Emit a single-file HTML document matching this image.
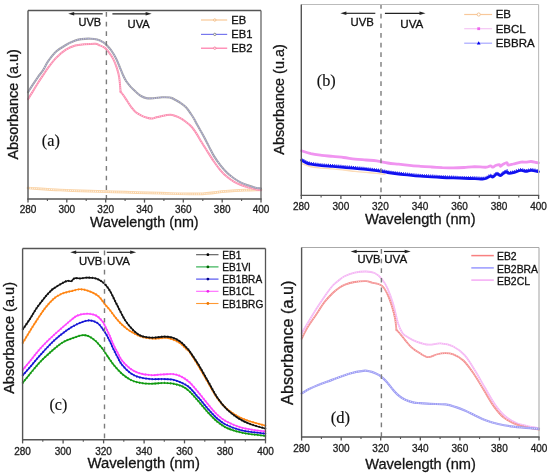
<!DOCTYPE html>
<html><head><meta charset="utf-8"><title>UV absorbance spectra</title>
<style>html,body{margin:0;padding:0;background:#fff;overflow:hidden;width:550px;height:476px;}svg{display:block;will-change:transform;}</style>
</head><body>
<svg width="550" height="476" viewBox="0 0 550 476">
<rect width="550" height="476" fill="#fff"/>
<path d="M28.0,188.0 C33.3,188.3 49.7,189.5 60.0,190.0 C70.3,190.5 79.2,190.8 90.0,191.2 C100.8,191.6 113.3,191.9 125.0,192.2 C136.7,192.5 147.7,192.9 160.0,193.2 C172.3,193.5 188.1,194.2 199.0,193.9 C209.9,193.6 217.8,191.9 225.5,191.3 C233.2,190.7 239.1,190.4 245.0,190.2 C250.9,189.9 258.3,189.9 261.0,189.8" fill="none" stroke="#fad4a8" stroke-width="2.70" stroke-linejoin="round" stroke-linecap="round" />
<path d="M28.0,188.0 C33.3,188.3 49.7,189.5 60.0,190.0 C70.3,190.5 79.2,190.8 90.0,191.2 C100.8,191.6 113.3,191.9 125.0,192.2 C136.7,192.5 147.7,192.9 160.0,193.2 C172.3,193.5 188.1,194.2 199.0,193.9 C209.9,193.6 217.8,191.9 225.5,191.3 C233.2,190.7 239.1,190.4 245.0,190.2 C250.9,189.9 258.3,189.9 261.0,189.8" fill="none" stroke="#ffffff" stroke-width="1.08" stroke-linejoin="round" stroke-linecap="butt" stroke-dasharray="1 1.1" stroke-opacity="0.75"/>
<path d="M28.0,99.2 C28.8,97.8 31.3,93.8 33.0,91.1 C34.7,88.3 36.4,85.4 38.1,82.7 C39.8,80.0 41.4,77.6 43.1,75.1 C44.8,72.6 46.0,70.5 48.2,67.6 C50.4,64.7 53.4,60.6 56.4,57.6 C59.4,54.6 62.8,51.7 65.9,49.7 C69.1,47.7 72.2,46.4 75.3,45.5 C78.4,44.6 81.1,44.6 84.5,44.3 C87.9,44.0 93.1,43.6 95.5,43.7 C97.9,43.8 97.2,44.4 98.7,45.0 C100.2,45.6 102.6,46.4 104.2,47.4 C105.8,48.4 106.6,49.5 108.1,51.3 C109.5,53.1 111.5,55.6 112.9,58.4 C114.4,61.2 115.8,64.8 116.8,67.9 C117.8,71.1 118.6,73.3 119.2,77.3 C119.8,81.3 120.4,89.4 120.6,91.8" fill="none" stroke="#fb8aae" stroke-width="2.00" stroke-linejoin="round" stroke-linecap="round" />
<path d="M28.0,99.2 C28.8,97.8 31.3,93.8 33.0,91.1 C34.7,88.3 36.4,85.4 38.1,82.7 C39.8,80.0 41.4,77.6 43.1,75.1 C44.8,72.6 46.0,70.5 48.2,67.6 C50.4,64.7 53.4,60.6 56.4,57.6 C59.4,54.6 62.8,51.7 65.9,49.7 C69.1,47.7 72.2,46.4 75.3,45.5 C78.4,44.6 81.1,44.6 84.5,44.3 C87.9,44.0 93.1,43.6 95.5,43.7 C97.9,43.8 97.2,44.4 98.7,45.0 C100.2,45.6 102.6,46.4 104.2,47.4 C105.8,48.4 106.6,49.5 108.1,51.3 C109.5,53.1 111.5,55.6 112.9,58.4 C114.4,61.2 115.8,64.8 116.8,67.9 C117.8,71.1 118.6,73.3 119.2,77.3 C119.8,81.3 120.4,89.4 120.6,91.8" fill="none" stroke="#ffffff" stroke-width="0.80" stroke-linejoin="round" stroke-linecap="butt" stroke-dasharray="1 1.1" stroke-opacity="0.75"/>
<path d="M120.6,91.8 C121.0,92.3 122.1,93.4 123.2,95.0 C124.3,96.6 126.0,99.2 127.4,101.3 C128.8,103.4 130.2,105.8 131.6,107.6 C133.0,109.4 134.2,111.0 135.8,112.3 C137.4,113.6 139.2,114.5 141.0,115.4 C142.8,116.3 144.6,117.0 146.3,117.5 C148.1,118.0 149.9,118.6 151.5,118.6 C153.1,118.6 153.9,118.0 155.7,117.6 C157.4,117.2 159.6,116.5 162.0,116.0 C164.4,115.5 168.1,114.8 170.3,114.8 C172.6,114.8 173.8,115.4 175.5,116.0 C177.2,116.6 179.1,117.4 180.8,118.4 C182.6,119.4 184.2,120.7 186.0,122.0 C187.8,123.3 189.6,124.6 191.3,126.5 C193.1,128.4 194.8,131.0 196.5,133.6 C198.2,136.2 200.2,139.9 201.5,142.0 C202.8,144.1 203.3,145.0 204.2,146.4 C205.1,147.8 205.2,148.0 206.8,150.5 C208.4,153.0 211.4,157.9 213.7,161.2 C216.0,164.5 218.2,167.7 220.5,170.3 C222.8,173.0 225.0,175.2 227.3,177.1 C229.6,179.0 231.9,180.6 234.2,181.9 C236.5,183.2 238.7,184.1 241.0,185.0 C243.3,185.9 245.5,186.7 247.8,187.4 C250.1,188.1 252.4,188.5 254.6,189.0 C256.8,189.5 259.9,190.0 261.0,190.2" fill="none" stroke="#fb8aae" stroke-width="2.00" stroke-linejoin="round" stroke-linecap="round" />
<path d="M120.6,91.8 C121.0,92.3 122.1,93.4 123.2,95.0 C124.3,96.6 126.0,99.2 127.4,101.3 C128.8,103.4 130.2,105.8 131.6,107.6 C133.0,109.4 134.2,111.0 135.8,112.3 C137.4,113.6 139.2,114.5 141.0,115.4 C142.8,116.3 144.6,117.0 146.3,117.5 C148.1,118.0 149.9,118.6 151.5,118.6 C153.1,118.6 153.9,118.0 155.7,117.6 C157.4,117.2 159.6,116.5 162.0,116.0 C164.4,115.5 168.1,114.8 170.3,114.8 C172.6,114.8 173.8,115.4 175.5,116.0 C177.2,116.6 179.1,117.4 180.8,118.4 C182.6,119.4 184.2,120.7 186.0,122.0 C187.8,123.3 189.6,124.6 191.3,126.5 C193.1,128.4 194.8,131.0 196.5,133.6 C198.2,136.2 200.2,139.9 201.5,142.0 C202.8,144.1 203.3,145.0 204.2,146.4 C205.1,147.8 205.2,148.0 206.8,150.5 C208.4,153.0 211.4,157.9 213.7,161.2 C216.0,164.5 218.2,167.7 220.5,170.3 C222.8,173.0 225.0,175.2 227.3,177.1 C229.6,179.0 231.9,180.6 234.2,181.9 C236.5,183.2 238.7,184.1 241.0,185.0 C243.3,185.9 245.5,186.7 247.8,187.4 C250.1,188.1 252.4,188.5 254.6,189.0 C256.8,189.5 259.9,190.0 261.0,190.2" fill="none" stroke="#ffffff" stroke-width="0.80" stroke-linejoin="round" stroke-linecap="butt" stroke-dasharray="1 1.1" stroke-opacity="0.75"/>
<path d="M28.0,92.2 C28.8,90.9 31.3,87.0 33.0,84.4 C34.7,81.8 36.4,79.2 38.1,76.8 C39.8,74.4 41.4,72.7 43.1,70.1 C44.8,67.5 46.0,64.3 48.2,61.2 C50.4,58.1 53.4,54.0 56.4,51.3 C59.4,48.6 62.8,46.8 65.9,45.0 C69.1,43.2 72.7,41.6 75.3,40.6 C77.9,39.6 78.7,39.4 81.3,39.1 C83.9,38.8 88.2,38.6 90.8,38.7 C93.4,38.8 95.0,39.0 97.1,39.6 C99.2,40.2 101.8,41.5 103.4,42.4 C105.0,43.3 105.2,43.6 106.5,45.0 C107.8,46.4 109.7,48.3 111.3,50.5 C112.9,52.7 114.4,55.2 116.0,58.4 C117.6,61.5 119.5,66.6 120.7,69.4 C121.9,72.2 122.1,73.0 123.0,75.0 C123.9,77.0 125.0,79.4 126.3,81.3 C127.5,83.2 128.9,84.8 130.5,86.6 C132.1,88.3 134.1,90.2 135.8,91.8 C137.6,93.4 139.2,95.0 141.0,96.0 C142.8,97.0 144.2,97.7 146.3,98.1 C148.4,98.5 151.0,98.4 153.6,98.3 C156.2,98.2 159.2,97.4 162.0,97.3 C164.8,97.2 168.1,97.1 170.3,97.6 C172.6,98.0 173.8,99.1 175.5,100.0 C177.2,100.9 179.1,101.9 180.8,103.1 C182.6,104.3 184.3,105.5 186.0,107.3 C187.7,109.1 189.6,112.0 191.0,114.0 C192.4,116.0 193.2,117.4 194.3,119.3 C195.4,121.2 196.2,123.0 197.5,125.3 C198.8,127.6 200.5,130.6 202.0,133.3 C203.5,136.0 205.2,139.1 206.4,141.5 C207.7,143.9 208.3,145.2 209.5,147.6 C210.7,149.9 211.9,152.6 213.7,155.6 C215.5,158.6 218.2,162.4 220.5,165.3 C222.8,168.2 225.0,170.8 227.3,173.0 C229.6,175.2 231.9,176.9 234.2,178.5 C236.5,180.1 238.7,181.5 241.0,182.6 C243.3,183.7 245.5,184.5 247.8,185.3 C250.1,186.1 252.4,186.9 254.6,187.4 C256.8,187.9 259.9,188.3 261.0,188.5" fill="none" stroke="#9e9ea4" stroke-width="2.10" stroke-linejoin="round" stroke-linecap="round" />
<path d="M28.0,92.2 C28.8,90.9 31.3,87.0 33.0,84.4 C34.7,81.8 36.4,79.2 38.1,76.8 C39.8,74.4 41.4,72.7 43.1,70.1 C44.8,67.5 46.0,64.3 48.2,61.2 C50.4,58.1 53.4,54.0 56.4,51.3 C59.4,48.6 62.8,46.8 65.9,45.0 C69.1,43.2 72.7,41.6 75.3,40.6 C77.9,39.6 78.7,39.4 81.3,39.1 C83.9,38.8 88.2,38.6 90.8,38.7 C93.4,38.8 95.0,39.0 97.1,39.6 C99.2,40.2 101.8,41.5 103.4,42.4 C105.0,43.3 105.2,43.6 106.5,45.0 C107.8,46.4 109.7,48.3 111.3,50.5 C112.9,52.7 114.4,55.2 116.0,58.4 C117.6,61.5 119.5,66.6 120.7,69.4 C121.9,72.2 122.1,73.0 123.0,75.0 C123.9,77.0 125.0,79.4 126.3,81.3 C127.5,83.2 128.9,84.8 130.5,86.6 C132.1,88.3 134.1,90.2 135.8,91.8 C137.6,93.4 139.2,95.0 141.0,96.0 C142.8,97.0 144.2,97.7 146.3,98.1 C148.4,98.5 151.0,98.4 153.6,98.3 C156.2,98.2 159.2,97.4 162.0,97.3 C164.8,97.2 168.1,97.1 170.3,97.6 C172.6,98.0 173.8,99.1 175.5,100.0 C177.2,100.9 179.1,101.9 180.8,103.1 C182.6,104.3 184.3,105.5 186.0,107.3 C187.7,109.1 189.6,112.0 191.0,114.0 C192.4,116.0 193.2,117.4 194.3,119.3 C195.4,121.2 196.2,123.0 197.5,125.3 C198.8,127.6 200.5,130.6 202.0,133.3 C203.5,136.0 205.2,139.1 206.4,141.5 C207.7,143.9 208.3,145.2 209.5,147.6 C210.7,149.9 211.9,152.6 213.7,155.6 C215.5,158.6 218.2,162.4 220.5,165.3 C222.8,168.2 225.0,170.8 227.3,173.0 C229.6,175.2 231.9,176.9 234.2,178.5 C236.5,180.1 238.7,181.5 241.0,182.6 C243.3,183.7 245.5,184.5 247.8,185.3 C250.1,186.1 252.4,186.9 254.6,187.4 C256.8,187.9 259.9,188.3 261.0,188.5" fill="none" stroke="#ffffff" stroke-width="0.84" stroke-linejoin="round" stroke-linecap="butt" stroke-dasharray="1 1.1" stroke-opacity="0.75"/>
<path d="M28.0,92.2 C28.8,90.9 31.3,87.0 33.0,84.4 C34.7,81.8 36.4,79.2 38.1,76.8 C39.8,74.4 41.4,72.7 43.1,70.1 C44.8,67.5 46.0,64.3 48.2,61.2 C50.4,58.1 53.4,54.0 56.4,51.3 C59.4,48.6 62.8,46.8 65.9,45.0 C69.1,43.2 72.7,41.6 75.3,40.6 C77.9,39.6 78.7,39.4 81.3,39.1 C83.9,38.8 88.2,38.6 90.8,38.7 C93.4,38.8 95.0,39.0 97.1,39.6 C99.2,40.2 101.8,41.5 103.4,42.4 C105.0,43.3 105.2,43.6 106.5,45.0 C107.8,46.4 109.7,48.3 111.3,50.5 C112.9,52.7 114.4,55.2 116.0,58.4 C117.6,61.5 119.5,66.6 120.7,69.4 C121.9,72.2 122.1,73.0 123.0,75.0 C123.9,77.0 125.0,79.4 126.3,81.3 C127.5,83.2 128.9,84.8 130.5,86.6 C132.1,88.3 134.1,90.2 135.8,91.8 C137.6,93.4 139.2,95.0 141.0,96.0 C142.8,97.0 144.2,97.7 146.3,98.1 C148.4,98.5 151.0,98.4 153.6,98.3 C156.2,98.2 159.2,97.4 162.0,97.3 C164.8,97.2 168.1,97.1 170.3,97.6 C172.6,98.0 173.8,99.1 175.5,100.0 C177.2,100.9 179.1,101.9 180.8,103.1 C182.6,104.3 184.3,105.5 186.0,107.3 C187.7,109.1 189.6,112.0 191.0,114.0 C192.4,116.0 193.2,117.4 194.3,119.3 C195.4,121.2 196.2,123.0 197.5,125.3 C198.8,127.6 200.5,130.6 202.0,133.3 C203.5,136.0 205.2,139.1 206.4,141.5 C207.7,143.9 208.3,145.2 209.5,147.6 C210.7,149.9 211.9,152.6 213.7,155.6 C215.5,158.6 218.2,162.4 220.5,165.3 C222.8,168.2 225.0,170.8 227.3,173.0 C229.6,175.2 231.9,176.9 234.2,178.5 C236.5,180.1 238.7,181.5 241.0,182.6 C243.3,183.7 245.5,184.5 247.8,185.3 C250.1,186.1 252.4,186.9 254.6,187.4 C256.8,187.9 259.9,188.3 261.0,188.5" fill="none" stroke="#8282f0" stroke-width="0.65" stroke-linejoin="round" stroke-linecap="butt" stroke-opacity="0.8" stroke-dasharray="1.2 1.2" stroke-dashoffset="0.6"/>
<line x1="106.4" y1="12.1" x2="106.4" y2="199.0" stroke="#7c7c7c" stroke-width="1.40" stroke-dasharray="4.70 4.92"/>
<line x1="28.0" y1="10.5" x2="261.0" y2="10.5" stroke="#555" stroke-width="1.30" />
<line x1="261.0" y1="10.5" x2="261.0" y2="199.0" stroke="#666" stroke-width="1.30" />
<line x1="28.0" y1="10.5" x2="28.0" y2="199.6" stroke="#555" stroke-width="1.40" />
<line x1="27.4" y1="199.0" x2="261.6" y2="199.0" stroke="#555" stroke-width="1.40" />
<line x1="28.0" y1="199.0" x2="28.0" y2="202.6" stroke="#555" stroke-width="1.30" />
<text x="28.0" y="212.6" font-size="10.00" text-anchor="middle" font-family='"Liberation Sans", sans-serif' fill="#222" stroke="#222" stroke-width="0.30" >280</text>
<line x1="47.4" y1="199.0" x2="47.4" y2="201.0" stroke="#555" stroke-width="1.10" />
<line x1="66.8" y1="199.0" x2="66.8" y2="202.6" stroke="#555" stroke-width="1.30" />
<text x="66.8" y="212.6" font-size="10.00" text-anchor="middle" font-family='"Liberation Sans", sans-serif' fill="#222" stroke="#222" stroke-width="0.30" >300</text>
<line x1="86.2" y1="199.0" x2="86.2" y2="201.0" stroke="#555" stroke-width="1.10" />
<line x1="105.7" y1="199.0" x2="105.7" y2="202.6" stroke="#555" stroke-width="1.30" />
<text x="105.7" y="212.6" font-size="10.00" text-anchor="middle" font-family='"Liberation Sans", sans-serif' fill="#222" stroke="#222" stroke-width="0.30" >320</text>
<line x1="125.1" y1="199.0" x2="125.1" y2="201.0" stroke="#555" stroke-width="1.10" />
<line x1="144.5" y1="199.0" x2="144.5" y2="202.6" stroke="#555" stroke-width="1.30" />
<text x="144.5" y="212.6" font-size="10.00" text-anchor="middle" font-family='"Liberation Sans", sans-serif' fill="#222" stroke="#222" stroke-width="0.30" >340</text>
<line x1="163.9" y1="199.0" x2="163.9" y2="201.0" stroke="#555" stroke-width="1.10" />
<line x1="183.3" y1="199.0" x2="183.3" y2="202.6" stroke="#555" stroke-width="1.30" />
<text x="183.3" y="212.6" font-size="10.00" text-anchor="middle" font-family='"Liberation Sans", sans-serif' fill="#222" stroke="#222" stroke-width="0.30" >360</text>
<line x1="202.8" y1="199.0" x2="202.8" y2="201.0" stroke="#555" stroke-width="1.10" />
<line x1="222.2" y1="199.0" x2="222.2" y2="202.6" stroke="#555" stroke-width="1.30" />
<text x="222.2" y="212.6" font-size="10.00" text-anchor="middle" font-family='"Liberation Sans", sans-serif' fill="#222" stroke="#222" stroke-width="0.30" >380</text>
<line x1="241.6" y1="199.0" x2="241.6" y2="201.0" stroke="#555" stroke-width="1.10" />
<line x1="261.0" y1="199.0" x2="261.0" y2="202.6" stroke="#555" stroke-width="1.30" />
<text x="261.0" y="212.6" font-size="10.00" text-anchor="middle" font-family='"Liberation Sans", sans-serif' fill="#222" stroke="#222" stroke-width="0.30" >400</text>
<text x="144.3" y="226.6" font-size="14.35" text-anchor="middle" font-family='"Liberation Sans", sans-serif' fill="#151515" stroke="#151515" stroke-width="0.30" >Wavelength (nm)</text>
<text transform="translate(18.4,104.4) rotate(-90)" font-size="14.4" text-anchor="middle" font-family='"Liberation Sans", sans-serif' fill="#151515" stroke="#151515" stroke-width="0.3">Absorbance (a.u)</text>
<line x1="102.7" y1="13.8" x2="71.8" y2="13.8" stroke="#222" stroke-width="1.15" />
<polygon points="68.2,13.8 74.2,12.1 74.2,15.5" fill="#222"/>
<line x1="112.4" y1="13.8" x2="148.0" y2="13.8" stroke="#222" stroke-width="1.15" />
<polygon points="151.6,13.8 145.6,12.1 145.6,15.5" fill="#222"/>
<text x="78.5" y="26.2" font-size="11.00" text-anchor="start" font-family='"Liberation Sans", sans-serif' fill="#111" stroke="#111" stroke-width="0.30" >UVB</text>
<text x="127.6" y="27.6" font-size="11.20" text-anchor="start" font-family='"Liberation Sans", sans-serif' fill="#111" stroke="#111" stroke-width="0.30" >UVA</text>
<text x="41.8" y="145.6" font-size="16.30" text-anchor="start" font-family='"Liberation Serif", serif' fill="#111" stroke="#111" stroke-width="0.15" >(a)</text>
<line x1="201.0" y1="20.0" x2="227.2" y2="20.0" stroke="#f9c896" stroke-width="1.20" />
<circle cx="214.8" cy="20.0" r="1.2" fill="#fff" stroke="#f0b070" stroke-width="0.8"/>
<text x="231.3" y="23.9" font-size="11.20" text-anchor="start" font-family='"Liberation Sans", sans-serif' fill="#111" stroke="#111" stroke-width="0.30" >EB</text>
<line x1="201.0" y1="34.4" x2="227.2" y2="34.4" stroke="#7777ee" stroke-width="1.20" />
<circle cx="214.8" cy="34.4" r="1.2" fill="#fff" stroke="#777" stroke-width="0.8"/>
<text x="231.3" y="38.3" font-size="11.20" text-anchor="start" font-family='"Liberation Sans", sans-serif' fill="#111" stroke="#111" stroke-width="0.30" >EB1</text>
<line x1="201.0" y1="48.2" x2="227.2" y2="48.2" stroke="#ff77a8" stroke-width="1.20" />
<circle cx="214.8" cy="48.2" r="1.2" fill="#fff" stroke="#f07090" stroke-width="0.8"/>
<text x="231.3" y="52.1" font-size="11.20" text-anchor="start" font-family='"Liberation Sans", sans-serif' fill="#111" stroke="#111" stroke-width="0.30" >EB2</text>
<path d="M302.5,163.8 C303.9,164.3 307.7,166.0 310.9,166.7 C314.1,167.4 318.2,167.7 321.8,168.1 C325.4,168.5 329.1,168.6 332.7,168.9 C336.3,169.2 339.9,169.6 343.6,170.0 C347.3,170.4 351.3,171.0 355.0,171.4 C358.7,171.8 362.4,172.1 366.0,172.4 C369.6,172.7 373.6,173.1 376.8,173.4 C380.0,173.7 383.6,174.2 385.0,174.3" fill="none" stroke="#fcdcb8" stroke-width="1.40" stroke-linejoin="round" stroke-linecap="round" />
<path d="M301.6,150.8 C303.2,151.3 307.5,152.8 310.9,153.6 C314.3,154.3 318.2,154.8 321.8,155.3 C325.4,155.8 329.1,156.0 332.7,156.4 C336.3,156.8 339.9,157.1 343.6,157.5 C347.3,157.9 351.3,158.7 355.0,159.1 C358.7,159.5 362.4,159.7 366.0,160.0 C369.6,160.3 373.2,160.4 376.8,160.9 C380.4,161.4 384.1,162.4 387.7,163.0 C391.3,163.6 395.0,163.8 398.6,164.2 C402.2,164.6 405.9,165.0 409.5,165.3 C413.1,165.7 416.9,166.0 420.5,166.3 C424.1,166.6 427.8,166.8 431.4,167.0 C435.0,167.2 438.7,167.5 442.3,167.7 C445.9,167.8 449.6,167.9 453.2,167.9 C456.8,167.9 461.0,167.7 464.1,167.5 C467.2,167.3 469.3,166.9 472.0,166.8 C474.7,166.7 477.8,166.8 480.2,166.9 C482.6,167.0 484.8,167.4 486.5,167.2 C488.2,167.0 489.3,165.9 490.4,165.9 C491.5,165.9 492.0,167.3 492.9,167.2 C493.8,167.1 494.4,165.9 495.5,165.5 C496.6,165.1 498.5,164.5 499.3,164.6 C500.1,164.7 499.9,166.4 500.5,166.3 C501.1,166.2 502.0,164.9 503.1,164.3 C504.2,163.7 506.0,162.6 506.9,162.7 C507.8,162.8 507.1,164.8 508.2,165.0 C509.3,165.2 511.2,164.5 513.3,164.0 C515.4,163.5 518.8,162.4 520.9,162.1 C523.0,161.8 524.3,162.2 526.0,162.1 C527.7,162.0 529.4,161.4 531.1,161.5 C532.8,161.6 535.0,162.3 536.2,162.5 C537.4,162.7 538.1,162.8 538.5,162.9" fill="none" stroke="#f094f0" stroke-width="2.80" stroke-linejoin="round" stroke-linecap="round" />
<path d="M301.6,160.2 C302.4,160.6 304.9,162.2 306.5,162.9 C308.1,163.6 308.3,163.8 310.9,164.2 C313.4,164.6 318.2,165.2 321.8,165.6 C325.4,166.0 329.1,166.1 332.7,166.4 C336.3,166.7 339.9,167.0 343.6,167.3 C347.3,167.6 351.3,168.1 355.0,168.4 C358.7,168.8 362.4,169.0 366.0,169.4 C369.6,169.8 373.2,170.2 376.8,170.7 C380.4,171.2 384.1,171.9 387.7,172.5 C391.3,173.1 395.0,173.6 398.6,174.0 C402.2,174.4 405.9,174.7 409.5,175.1 C413.1,175.5 416.9,175.9 420.5,176.2 C424.1,176.5 427.8,176.6 431.4,176.8 C435.0,177.0 438.7,177.3 442.3,177.5 C445.9,177.7 449.6,177.8 453.2,177.9 C456.8,178.1 460.5,178.3 464.1,178.4 C467.7,178.5 471.9,178.5 475.0,178.6 C478.1,178.7 480.8,179.1 482.7,179.0 C484.6,178.9 485.2,178.8 486.5,178.3 C487.8,177.8 489.3,176.3 490.4,176.1 C491.5,175.9 491.8,177.4 492.9,177.0 C493.9,176.6 495.4,174.2 496.7,173.9 C498.0,173.7 499.4,175.6 500.5,175.5 C501.6,175.4 502.0,174.2 503.1,173.5 C504.2,172.8 506.0,171.7 506.9,171.6 C507.8,171.5 507.1,173.0 508.2,173.2 C509.3,173.4 511.2,173.2 513.3,172.7 C515.4,172.2 518.8,170.6 520.9,170.4 C523.0,170.2 524.3,171.4 526.0,171.4 C527.7,171.4 529.0,170.4 531.1,170.4 C533.2,170.4 537.3,171.4 538.5,171.6" fill="none" stroke="#1010f0" stroke-width="2.80" stroke-linejoin="round" stroke-linecap="round" />
<path d="M301.6,158.6 C302.4,159.1 304.9,160.6 306.5,161.3 C308.1,162.0 308.3,162.2 310.9,162.6 C313.4,163.0 318.2,163.6 321.8,164.0 C325.4,164.4 329.1,164.5 332.7,164.8 C336.3,165.1 339.9,165.4 343.6,165.7 C347.3,166.0 351.3,166.5 355.0,166.8 C358.7,167.2 362.4,167.4 366.0,167.8 C369.6,168.2 373.2,168.6 376.8,169.1 C380.4,169.6 384.1,170.3 387.7,170.9 C391.3,171.5 395.0,172.0 398.6,172.4 C402.2,172.8 405.9,173.1 409.5,173.5 C413.1,173.9 416.9,174.3 420.5,174.6 C424.1,174.9 427.8,175.0 431.4,175.2 C435.0,175.4 438.7,175.7 442.3,175.9 C445.9,176.1 449.6,176.2 453.2,176.3 C456.8,176.5 460.5,176.7 464.1,176.8 C467.7,176.9 471.9,176.9 475.0,177.0 C478.1,177.1 480.8,177.4 482.7,177.4 C484.6,177.4 485.2,177.2 486.5,176.7 C487.8,176.2 489.3,174.7 490.4,174.5 C491.5,174.3 491.8,175.8 492.9,175.4 C493.9,175.0 495.4,172.6 496.7,172.3 C498.0,172.1 499.4,174.0 500.5,173.9 C501.6,173.8 502.0,172.6 503.1,171.9 C504.2,171.2 506.0,170.1 506.9,170.0 C507.8,169.9 507.1,171.4 508.2,171.6 C509.3,171.8 511.2,171.6 513.3,171.1 C515.4,170.6 518.8,169.0 520.9,168.8 C523.0,168.6 524.3,169.8 526.0,169.8 C527.7,169.8 529.0,168.8 531.1,168.8 C533.2,168.8 537.3,169.8 538.5,170.0" fill="none" stroke="#2020f0" stroke-width="1.40" stroke-linejoin="round" stroke-linecap="butt" stroke-dasharray="1.0 1.1"/>
<line x1="381.0" y1="4.1" x2="381.0" y2="195.4" stroke="#7c7c7c" stroke-width="1.40" stroke-dasharray="4.70 4.95"/>
<line x1="301.3" y1="4.5" x2="538.6" y2="4.5" stroke="#bbb" stroke-width="1.10" />
<line x1="538.6" y1="4.5" x2="538.6" y2="195.4" stroke="#bbb" stroke-width="1.10" />
<line x1="301.3" y1="4.5" x2="301.3" y2="196.0" stroke="#555" stroke-width="1.40" />
<line x1="300.7" y1="195.4" x2="539.2" y2="195.4" stroke="#555" stroke-width="1.40" />
<line x1="301.3" y1="195.4" x2="301.3" y2="199.0" stroke="#555" stroke-width="1.30" />
<text x="301.3" y="209.7" font-size="10.00" text-anchor="middle" font-family='"Liberation Sans", sans-serif' fill="#222" stroke="#222" stroke-width="0.30" >280</text>
<line x1="321.1" y1="195.4" x2="321.1" y2="197.4" stroke="#555" stroke-width="1.10" />
<line x1="340.9" y1="195.4" x2="340.9" y2="199.0" stroke="#555" stroke-width="1.30" />
<text x="340.9" y="209.7" font-size="10.00" text-anchor="middle" font-family='"Liberation Sans", sans-serif' fill="#222" stroke="#222" stroke-width="0.30" >300</text>
<line x1="360.6" y1="195.4" x2="360.6" y2="197.4" stroke="#555" stroke-width="1.10" />
<line x1="380.4" y1="195.4" x2="380.4" y2="199.0" stroke="#555" stroke-width="1.30" />
<text x="380.4" y="209.7" font-size="10.00" text-anchor="middle" font-family='"Liberation Sans", sans-serif' fill="#222" stroke="#222" stroke-width="0.30" >320</text>
<line x1="400.2" y1="195.4" x2="400.2" y2="197.4" stroke="#555" stroke-width="1.10" />
<line x1="420.0" y1="195.4" x2="420.0" y2="199.0" stroke="#555" stroke-width="1.30" />
<text x="420.0" y="209.7" font-size="10.00" text-anchor="middle" font-family='"Liberation Sans", sans-serif' fill="#222" stroke="#222" stroke-width="0.30" >340</text>
<line x1="439.7" y1="195.4" x2="439.7" y2="197.4" stroke="#555" stroke-width="1.10" />
<line x1="459.5" y1="195.4" x2="459.5" y2="199.0" stroke="#555" stroke-width="1.30" />
<text x="459.5" y="209.7" font-size="10.00" text-anchor="middle" font-family='"Liberation Sans", sans-serif' fill="#222" stroke="#222" stroke-width="0.30" >360</text>
<line x1="479.3" y1="195.4" x2="479.3" y2="197.4" stroke="#555" stroke-width="1.10" />
<line x1="499.1" y1="195.4" x2="499.1" y2="199.0" stroke="#555" stroke-width="1.30" />
<text x="499.1" y="209.7" font-size="10.00" text-anchor="middle" font-family='"Liberation Sans", sans-serif' fill="#222" stroke="#222" stroke-width="0.30" >380</text>
<line x1="518.8" y1="195.4" x2="518.8" y2="197.4" stroke="#555" stroke-width="1.10" />
<line x1="538.6" y1="195.4" x2="538.6" y2="199.0" stroke="#555" stroke-width="1.30" />
<text x="538.6" y="209.7" font-size="10.00" text-anchor="middle" font-family='"Liberation Sans", sans-serif' fill="#222" stroke="#222" stroke-width="0.30" >400</text>
<text x="420.3" y="223.5" font-size="14.60" text-anchor="middle" font-family='"Liberation Sans", sans-serif' fill="#151515" stroke="#151515" stroke-width="0.30" >Wavelength (nm)</text>
<text transform="translate(283.8,99.5) rotate(-90)" font-size="14.4" text-anchor="middle" font-family='"Liberation Sans", sans-serif' fill="#151515" stroke="#151515" stroke-width="0.3">Absorbance (u.a)</text>
<line x1="375.3" y1="13.3" x2="344.0" y2="13.3" stroke="#222" stroke-width="1.15" />
<polygon points="340.4,13.3 346.4,11.6 346.4,15.0" fill="#222"/>
<line x1="384.9" y1="13.3" x2="421.9" y2="13.3" stroke="#222" stroke-width="1.15" />
<polygon points="425.5,13.3 419.5,11.6 419.5,15.0" fill="#222"/>
<text x="350.6" y="25.9" font-size="11.30" text-anchor="start" font-family='"Liberation Sans", sans-serif' fill="#111" stroke="#111" stroke-width="0.30" >UVB</text>
<text x="400.3" y="27.8" font-size="11.60" text-anchor="start" font-family='"Liberation Sans", sans-serif' fill="#111" stroke="#111" stroke-width="0.30" >UVA</text>
<text x="316.8" y="85.6" font-size="16.30" text-anchor="start" font-family='"Liberation Serif", serif' fill="#111" stroke="#111" stroke-width="0.15" >(b)</text>
<line x1="464.2" y1="14.5" x2="492.1" y2="14.5" stroke="#f8c89a" stroke-width="1.20" />
<text x="495.7" y="18.3" font-size="11.50" text-anchor="start" font-family='"Liberation Sans", sans-serif' fill="#111" stroke="#111" stroke-width="0.30" >EB</text>
<line x1="464.2" y1="28.7" x2="492.1" y2="28.7" stroke="#f4c6f4" stroke-width="1.20" />
<text x="495.7" y="32.5" font-size="11.50" text-anchor="start" font-family='"Liberation Sans", sans-serif' fill="#111" stroke="#111" stroke-width="0.30" >EBCL</text>
<line x1="464.2" y1="43.2" x2="492.1" y2="43.2" stroke="#a8a8ff" stroke-width="1.20" />
<text x="495.7" y="47.0" font-size="11.50" text-anchor="start" font-family='"Liberation Sans", sans-serif' fill="#111" stroke="#111" stroke-width="0.30" >EBBRA</text>
<circle cx="478.7" cy="14.5" r="1.6" fill="#fff" stroke="#f0b880" stroke-width="0.8"/>
<rect x="477.3" y="27.3" width="2.8" height="2.8" fill="#ee66ee"/>
<polygon points="478.7,41.3 480.6,44.5 476.8,44.5" fill="#0000ee"/>
<path d="M22.6,383.0 C23.9,381.4 27.2,377.2 30.1,373.7 C33.0,370.2 36.2,366.1 40.1,362.0 C44.0,357.9 49.7,352.8 53.6,349.4 C57.5,346.0 60.4,343.7 63.7,341.8 C67.0,339.9 70.6,338.9 73.7,337.8 C76.8,336.7 79.6,335.4 82.1,335.2 C84.6,334.9 86.5,335.3 88.8,336.3 C91.0,337.3 93.3,339.0 95.6,341.0 C97.8,343.0 100.6,346.4 102.3,348.5 C104.0,350.6 104.7,352.0 105.8,353.6 C106.9,355.2 107.7,356.6 109.0,358.4 C110.3,360.2 111.3,361.9 113.4,364.5 C115.5,367.1 119.0,371.2 121.8,373.7 C124.6,376.2 127.4,378.1 130.2,379.6 C133.0,381.1 135.2,381.8 138.6,382.5 C141.9,383.2 146.4,383.7 150.3,383.8 C154.2,383.9 158.4,383.1 162.1,383.0 C165.8,382.9 168.8,382.9 172.2,383.5 C175.5,384.1 179.3,385.0 182.2,386.3 C185.0,387.6 186.6,388.8 189.3,391.3 C192.0,393.8 195.4,397.8 198.5,401.3 C201.6,404.8 204.7,408.9 207.8,412.2 C210.9,415.5 213.9,418.8 217.0,421.4 C220.1,424.0 222.4,425.9 226.3,427.7 C230.2,429.5 235.6,431.1 240.2,432.3 C244.8,433.5 249.9,434.0 254.1,434.6 C258.3,435.2 263.6,435.7 265.5,435.9" fill="none" stroke="#119a11" stroke-width="1.55" stroke-linejoin="round" stroke-linecap="round" />
<path d="M22.6,383.0 C23.9,381.4 27.2,377.2 30.1,373.7 C33.0,370.2 36.2,366.1 40.1,362.0 C44.0,357.9 49.7,352.8 53.6,349.4 C57.5,346.0 60.4,343.7 63.7,341.8 C67.0,339.9 70.6,338.9 73.7,337.8 C76.8,336.7 79.6,335.4 82.1,335.2 C84.6,334.9 86.5,335.3 88.8,336.3 C91.0,337.3 93.3,339.0 95.6,341.0 C97.8,343.0 100.6,346.4 102.3,348.5 C104.0,350.6 104.7,352.0 105.8,353.6 C106.9,355.2 107.7,356.6 109.0,358.4 C110.3,360.2 111.3,361.9 113.4,364.5 C115.5,367.1 119.0,371.2 121.8,373.7 C124.6,376.2 127.4,378.1 130.2,379.6 C133.0,381.1 135.2,381.8 138.6,382.5 C141.9,383.2 146.4,383.7 150.3,383.8 C154.2,383.9 158.4,383.1 162.1,383.0 C165.8,382.9 168.8,382.9 172.2,383.5 C175.5,384.1 179.3,385.0 182.2,386.3 C185.0,387.6 186.6,388.8 189.3,391.3 C192.0,393.8 195.4,397.8 198.5,401.3 C201.6,404.8 204.7,408.9 207.8,412.2 C210.9,415.5 213.9,418.8 217.0,421.4 C220.1,424.0 222.4,425.9 226.3,427.7 C230.2,429.5 235.6,431.1 240.2,432.3 C244.8,433.5 249.9,434.0 254.1,434.6 C258.3,435.2 263.6,435.7 265.5,435.9" fill="none" stroke="#119a11" stroke-width="2.20" stroke-linejoin="round" stroke-linecap="butt" stroke-dasharray="1.1 2.0" stroke-opacity="0.85"/>
<path d="M22.6,375.4 C23.9,374.0 27.2,370.4 30.1,367.0 C33.0,363.6 36.2,359.6 40.1,355.3 C44.0,351.0 49.1,345.2 53.6,341.0 C58.1,336.8 62.8,333.0 67.0,330.1 C71.2,327.2 75.2,325.0 78.8,323.4 C82.4,321.8 85.7,320.5 88.8,320.4 C91.9,320.3 95.0,321.5 97.2,322.8 C99.5,324.1 100.9,326.6 102.3,328.4 C103.7,330.2 104.6,331.6 105.8,333.6 C107.0,335.6 108.2,337.9 109.5,340.5 C110.8,343.1 112.1,346.2 113.4,349.0 C114.7,351.8 116.1,354.4 117.5,357.0 C118.9,359.6 119.7,361.9 121.8,364.5 C123.9,367.1 127.4,370.8 130.2,372.9 C133.0,375.0 135.2,376.1 138.6,377.1 C141.9,378.1 146.4,378.8 150.3,379.1 C154.2,379.4 158.4,379.0 162.1,379.1 C165.8,379.2 168.8,379.0 172.2,379.6 C175.5,380.2 179.3,381.7 182.2,383.0 C185.0,384.3 186.6,385.0 189.3,387.4 C192.0,389.8 195.4,394.1 198.5,397.6 C201.6,401.2 204.7,405.2 207.8,408.7 C210.9,412.2 213.9,415.7 217.0,418.4 C220.1,421.1 222.4,423.0 226.3,424.9 C230.2,426.8 235.6,428.8 240.2,430.0 C244.8,431.2 249.9,431.7 254.1,432.3 C258.3,432.9 263.6,433.4 265.5,433.6" fill="none" stroke="#1515d5" stroke-width="1.55" stroke-linejoin="round" stroke-linecap="round" />
<path d="M22.6,375.4 C23.9,374.0 27.2,370.4 30.1,367.0 C33.0,363.6 36.2,359.6 40.1,355.3 C44.0,351.0 49.1,345.2 53.6,341.0 C58.1,336.8 62.8,333.0 67.0,330.1 C71.2,327.2 75.2,325.0 78.8,323.4 C82.4,321.8 85.7,320.5 88.8,320.4 C91.9,320.3 95.0,321.5 97.2,322.8 C99.5,324.1 100.9,326.6 102.3,328.4 C103.7,330.2 104.6,331.6 105.8,333.6 C107.0,335.6 108.2,337.9 109.5,340.5 C110.8,343.1 112.1,346.2 113.4,349.0 C114.7,351.8 116.1,354.4 117.5,357.0 C118.9,359.6 119.7,361.9 121.8,364.5 C123.9,367.1 127.4,370.8 130.2,372.9 C133.0,375.0 135.2,376.1 138.6,377.1 C141.9,378.1 146.4,378.8 150.3,379.1 C154.2,379.4 158.4,379.0 162.1,379.1 C165.8,379.2 168.8,379.0 172.2,379.6 C175.5,380.2 179.3,381.7 182.2,383.0 C185.0,384.3 186.6,385.0 189.3,387.4 C192.0,389.8 195.4,394.1 198.5,397.6 C201.6,401.2 204.7,405.2 207.8,408.7 C210.9,412.2 213.9,415.7 217.0,418.4 C220.1,421.1 222.4,423.0 226.3,424.9 C230.2,426.8 235.6,428.8 240.2,430.0 C244.8,431.2 249.9,431.7 254.1,432.3 C258.3,432.9 263.6,433.4 265.5,433.6" fill="none" stroke="#1515d5" stroke-width="2.20" stroke-linejoin="round" stroke-linecap="butt" stroke-dasharray="1.1 2.0" stroke-opacity="0.85"/>
<path d="M22.6,370.0 C23.9,368.5 27.2,364.7 30.1,361.1 C33.0,357.6 36.2,353.0 40.1,348.7 C44.0,344.4 49.1,339.5 53.6,335.3 C58.1,331.1 63.1,326.8 67.0,323.5 C70.9,320.2 73.7,317.3 77.1,315.7 C80.5,314.1 84.1,313.8 87.2,313.7 C90.3,313.6 93.1,314.1 95.6,315.3 C98.1,316.6 100.6,319.1 102.3,321.2 C104.0,323.2 104.6,325.2 105.8,327.6 C107.0,330.0 108.2,332.5 109.5,335.3 C110.8,338.1 112.1,341.6 113.4,344.5 C114.7,347.4 116.1,349.9 117.5,352.5 C118.9,355.1 119.7,357.6 121.8,360.3 C123.9,363.0 127.4,366.6 130.2,368.7 C133.0,370.8 135.2,371.8 138.6,372.9 C141.9,374.0 146.7,374.8 150.3,375.1 C153.9,375.4 156.8,374.8 160.4,374.6 C164.1,374.4 168.8,373.8 172.2,374.1 C175.6,374.4 177.8,374.9 180.6,376.2 C183.4,377.5 186.3,379.4 189.3,382.1 C192.3,384.8 195.4,388.8 198.5,392.5 C201.6,396.2 204.7,400.4 207.8,404.1 C210.9,407.8 213.9,411.6 217.0,414.5 C220.1,417.4 222.4,419.3 226.3,421.4 C230.2,423.5 235.6,425.8 240.2,427.2 C244.8,428.6 249.9,429.3 254.1,430.0 C258.3,430.7 263.6,431.2 265.5,431.5" fill="none" stroke="#ff44ff" stroke-width="1.55" stroke-linejoin="round" stroke-linecap="round" />
<path d="M22.6,370.0 C23.9,368.5 27.2,364.7 30.1,361.1 C33.0,357.6 36.2,353.0 40.1,348.7 C44.0,344.4 49.1,339.5 53.6,335.3 C58.1,331.1 63.1,326.8 67.0,323.5 C70.9,320.2 73.7,317.3 77.1,315.7 C80.5,314.1 84.1,313.8 87.2,313.7 C90.3,313.6 93.1,314.1 95.6,315.3 C98.1,316.6 100.6,319.1 102.3,321.2 C104.0,323.2 104.6,325.2 105.8,327.6 C107.0,330.0 108.2,332.5 109.5,335.3 C110.8,338.1 112.1,341.6 113.4,344.5 C114.7,347.4 116.1,349.9 117.5,352.5 C118.9,355.1 119.7,357.6 121.8,360.3 C123.9,363.0 127.4,366.6 130.2,368.7 C133.0,370.8 135.2,371.8 138.6,372.9 C141.9,374.0 146.7,374.8 150.3,375.1 C153.9,375.4 156.8,374.8 160.4,374.6 C164.1,374.4 168.8,373.8 172.2,374.1 C175.6,374.4 177.8,374.9 180.6,376.2 C183.4,377.5 186.3,379.4 189.3,382.1 C192.3,384.8 195.4,388.8 198.5,392.5 C201.6,396.2 204.7,400.4 207.8,404.1 C210.9,407.8 213.9,411.6 217.0,414.5 C220.1,417.4 222.4,419.3 226.3,421.4 C230.2,423.5 235.6,425.8 240.2,427.2 C244.8,428.6 249.9,429.3 254.1,430.0 C258.3,430.7 263.6,431.2 265.5,431.5" fill="none" stroke="#ff44ff" stroke-width="2.20" stroke-linejoin="round" stroke-linecap="butt" stroke-dasharray="1.1 2.0" stroke-opacity="0.85"/>
<path d="M22.6,343.2 C23.9,341.1 27.7,334.6 30.1,330.8 C32.5,327.0 34.3,324.0 36.8,320.2 C39.3,316.4 42.4,311.5 45.2,307.9 C48.0,304.3 50.8,301.2 53.6,298.8 C56.4,296.4 59.2,294.9 62.0,293.6 C64.8,292.4 67.5,292.0 70.4,291.3 C73.3,290.6 76.8,289.4 79.6,289.3 C82.4,289.2 84.6,289.7 87.2,290.5 C89.8,291.3 93.2,292.8 95.3,294.0 C97.4,295.2 98.4,296.0 100.0,297.7 C101.6,299.4 103.4,302.3 105.1,304.4 C106.8,306.5 108.4,308.2 110.1,310.3 C111.8,312.4 113.4,314.9 115.1,317.0 C116.8,319.1 118.2,320.9 120.2,322.9 C122.2,324.9 124.7,327.1 126.9,328.8 C129.1,330.5 131.4,331.8 133.6,333.0 C135.8,334.2 138.1,335.5 140.3,336.3 C142.5,337.1 144.5,337.6 147.0,338.0 C149.5,338.4 152.3,338.6 155.4,338.6 C158.5,338.6 162.7,337.7 165.5,337.8 C168.3,337.9 169.7,338.4 172.2,339.3 C174.7,340.2 178.1,341.8 180.6,343.5 C183.1,345.2 185.6,348.4 187.0,349.8 C188.4,351.2 187.4,348.9 189.3,351.6 C191.2,354.3 195.4,360.9 198.5,366.0 C201.6,371.1 204.7,376.9 207.8,382.2 C210.9,387.5 213.9,393.4 217.0,397.8 C220.1,402.2 222.8,405.3 226.3,408.4 C229.8,411.5 234.1,414.3 237.9,416.4 C241.8,418.5 244.8,419.7 249.4,421.2 C254.0,422.7 262.8,424.9 265.5,425.6" fill="none" stroke="#ff8411" stroke-width="1.55" stroke-linejoin="round" stroke-linecap="round" />
<path d="M22.6,343.2 C23.9,341.1 27.7,334.6 30.1,330.8 C32.5,327.0 34.3,324.0 36.8,320.2 C39.3,316.4 42.4,311.5 45.2,307.9 C48.0,304.3 50.8,301.2 53.6,298.8 C56.4,296.4 59.2,294.9 62.0,293.6 C64.8,292.4 67.5,292.0 70.4,291.3 C73.3,290.6 76.8,289.4 79.6,289.3 C82.4,289.2 84.6,289.7 87.2,290.5 C89.8,291.3 93.2,292.8 95.3,294.0 C97.4,295.2 98.4,296.0 100.0,297.7 C101.6,299.4 103.4,302.3 105.1,304.4 C106.8,306.5 108.4,308.2 110.1,310.3 C111.8,312.4 113.4,314.9 115.1,317.0 C116.8,319.1 118.2,320.9 120.2,322.9 C122.2,324.9 124.7,327.1 126.9,328.8 C129.1,330.5 131.4,331.8 133.6,333.0 C135.8,334.2 138.1,335.5 140.3,336.3 C142.5,337.1 144.5,337.6 147.0,338.0 C149.5,338.4 152.3,338.6 155.4,338.6 C158.5,338.6 162.7,337.7 165.5,337.8 C168.3,337.9 169.7,338.4 172.2,339.3 C174.7,340.2 178.1,341.8 180.6,343.5 C183.1,345.2 185.6,348.4 187.0,349.8 C188.4,351.2 187.4,348.9 189.3,351.6 C191.2,354.3 195.4,360.9 198.5,366.0 C201.6,371.1 204.7,376.9 207.8,382.2 C210.9,387.5 213.9,393.4 217.0,397.8 C220.1,402.2 222.8,405.3 226.3,408.4 C229.8,411.5 234.1,414.3 237.9,416.4 C241.8,418.5 244.8,419.7 249.4,421.2 C254.0,422.7 262.8,424.9 265.5,425.6" fill="none" stroke="#ff8411" stroke-width="2.20" stroke-linejoin="round" stroke-linecap="butt" stroke-dasharray="1.1 2.0" stroke-opacity="0.85"/>
<path d="M22.6,329.6 C23.9,327.8 27.7,322.3 30.1,318.7 C32.5,315.1 34.3,311.5 36.8,307.9 C39.3,304.3 43.1,299.5 45.2,296.9 C47.3,294.3 48.1,293.6 49.5,292.2 C50.9,290.8 51.8,289.8 53.6,288.5 C55.4,287.2 58.1,285.6 60.3,284.3 C62.5,283.0 65.2,281.4 67.0,280.9 C68.8,280.4 69.9,281.6 71.2,281.2 C72.5,280.8 73.1,278.8 74.6,278.3 C76.1,277.8 78.3,278.5 80.4,278.4 C82.5,278.3 85.0,277.7 87.2,277.6 C89.5,277.6 92.0,277.8 93.9,278.1 C95.9,278.5 97.2,278.8 98.9,279.7 C100.6,280.6 102.4,281.8 104.0,283.3 C105.6,284.8 107.3,287.0 108.6,288.8 C109.9,290.6 110.7,292.2 111.8,294.3 C112.9,296.4 114.0,298.9 115.1,301.1 C116.2,303.4 117.4,305.6 118.5,307.8 C119.6,310.0 120.8,312.4 121.9,314.5 C123.0,316.6 123.8,318.3 125.2,320.4 C126.6,322.5 128.6,325.2 130.3,327.1 C132.0,329.1 133.6,330.7 135.3,332.1 C137.0,333.5 138.4,334.6 140.3,335.5 C142.2,336.4 144.6,336.9 147.0,337.3 C149.4,337.7 152.2,337.7 155.0,337.6 C157.8,337.5 160.9,336.6 163.8,336.6 C166.7,336.6 169.4,336.7 172.2,337.6 C175.0,338.5 178.1,340.0 180.6,341.8 C183.1,343.6 185.6,346.7 187.0,348.2 C188.4,349.7 187.4,348.1 189.3,350.8 C191.2,353.6 195.4,359.7 198.5,364.7 C201.6,369.7 204.7,375.5 207.8,380.9 C210.9,386.3 213.9,392.5 217.0,397.1 C220.1,401.7 222.8,405.2 226.3,408.7 C229.8,412.2 234.1,415.5 237.9,418.0 C241.8,420.5 244.8,422.0 249.4,423.8 C254.0,425.6 262.8,427.8 265.5,428.6" fill="none" stroke="#111" stroke-width="1.55" stroke-linejoin="round" stroke-linecap="round" />
<path d="M22.6,329.6 C23.9,327.8 27.7,322.3 30.1,318.7 C32.5,315.1 34.3,311.5 36.8,307.9 C39.3,304.3 43.1,299.5 45.2,296.9 C47.3,294.3 48.1,293.6 49.5,292.2 C50.9,290.8 51.8,289.8 53.6,288.5 C55.4,287.2 58.1,285.6 60.3,284.3 C62.5,283.0 65.2,281.4 67.0,280.9 C68.8,280.4 69.9,281.6 71.2,281.2 C72.5,280.8 73.1,278.8 74.6,278.3 C76.1,277.8 78.3,278.5 80.4,278.4 C82.5,278.3 85.0,277.7 87.2,277.6 C89.5,277.6 92.0,277.8 93.9,278.1 C95.9,278.5 97.2,278.8 98.9,279.7 C100.6,280.6 102.4,281.8 104.0,283.3 C105.6,284.8 107.3,287.0 108.6,288.8 C109.9,290.6 110.7,292.2 111.8,294.3 C112.9,296.4 114.0,298.9 115.1,301.1 C116.2,303.4 117.4,305.6 118.5,307.8 C119.6,310.0 120.8,312.4 121.9,314.5 C123.0,316.6 123.8,318.3 125.2,320.4 C126.6,322.5 128.6,325.2 130.3,327.1 C132.0,329.1 133.6,330.7 135.3,332.1 C137.0,333.5 138.4,334.6 140.3,335.5 C142.2,336.4 144.6,336.9 147.0,337.3 C149.4,337.7 152.2,337.7 155.0,337.6 C157.8,337.5 160.9,336.6 163.8,336.6 C166.7,336.6 169.4,336.7 172.2,337.6 C175.0,338.5 178.1,340.0 180.6,341.8 C183.1,343.6 185.6,346.7 187.0,348.2 C188.4,349.7 187.4,348.1 189.3,350.8 C191.2,353.6 195.4,359.7 198.5,364.7 C201.6,369.7 204.7,375.5 207.8,380.9 C210.9,386.3 213.9,392.5 217.0,397.1 C220.1,401.7 222.8,405.2 226.3,408.7 C229.8,412.2 234.1,415.5 237.9,418.0 C241.8,420.5 244.8,422.0 249.4,423.8 C254.0,425.6 262.8,427.8 265.5,428.6" fill="none" stroke="#111" stroke-width="2.20" stroke-linejoin="round" stroke-linecap="butt" stroke-dasharray="1.1 2.0" stroke-opacity="0.85"/>
<line x1="104.5" y1="250.5" x2="104.5" y2="439.8" stroke="#7c7c7c" stroke-width="1.40" stroke-dasharray="4.70 4.93"/>
<line x1="22.6" y1="248.5" x2="265.5" y2="248.5" stroke="#555" stroke-width="1.30" />
<line x1="265.5" y1="248.5" x2="265.5" y2="439.8" stroke="#555" stroke-width="1.30" />
<line x1="22.6" y1="248.5" x2="22.6" y2="440.4" stroke="#555" stroke-width="1.40" />
<line x1="22.0" y1="439.8" x2="266.1" y2="439.8" stroke="#555" stroke-width="1.40" />
<line x1="22.6" y1="439.8" x2="22.6" y2="443.4" stroke="#555" stroke-width="1.30" />
<text x="22.6" y="455.0" font-size="10.00" text-anchor="middle" font-family='"Liberation Sans", sans-serif' fill="#222" stroke="#222" stroke-width="0.30" >280</text>
<line x1="42.8" y1="439.8" x2="42.8" y2="441.8" stroke="#555" stroke-width="1.10" />
<line x1="63.1" y1="439.8" x2="63.1" y2="443.4" stroke="#555" stroke-width="1.30" />
<text x="63.1" y="455.0" font-size="10.00" text-anchor="middle" font-family='"Liberation Sans", sans-serif' fill="#222" stroke="#222" stroke-width="0.30" >300</text>
<line x1="83.3" y1="439.8" x2="83.3" y2="441.8" stroke="#555" stroke-width="1.10" />
<line x1="103.6" y1="439.8" x2="103.6" y2="443.4" stroke="#555" stroke-width="1.30" />
<text x="103.6" y="455.0" font-size="10.00" text-anchor="middle" font-family='"Liberation Sans", sans-serif' fill="#222" stroke="#222" stroke-width="0.30" >320</text>
<line x1="123.8" y1="439.8" x2="123.8" y2="441.8" stroke="#555" stroke-width="1.10" />
<line x1="144.1" y1="439.8" x2="144.1" y2="443.4" stroke="#555" stroke-width="1.30" />
<text x="144.1" y="455.0" font-size="10.00" text-anchor="middle" font-family='"Liberation Sans", sans-serif' fill="#222" stroke="#222" stroke-width="0.30" >340</text>
<line x1="164.3" y1="439.8" x2="164.3" y2="441.8" stroke="#555" stroke-width="1.10" />
<line x1="184.5" y1="439.8" x2="184.5" y2="443.4" stroke="#555" stroke-width="1.30" />
<text x="184.5" y="455.0" font-size="10.00" text-anchor="middle" font-family='"Liberation Sans", sans-serif' fill="#222" stroke="#222" stroke-width="0.30" >360</text>
<line x1="204.8" y1="439.8" x2="204.8" y2="441.8" stroke="#555" stroke-width="1.10" />
<line x1="225.0" y1="439.8" x2="225.0" y2="443.4" stroke="#555" stroke-width="1.30" />
<text x="225.0" y="455.0" font-size="10.00" text-anchor="middle" font-family='"Liberation Sans", sans-serif' fill="#222" stroke="#222" stroke-width="0.30" >380</text>
<line x1="245.3" y1="439.8" x2="245.3" y2="441.8" stroke="#555" stroke-width="1.10" />
<line x1="265.5" y1="439.8" x2="265.5" y2="443.4" stroke="#555" stroke-width="1.30" />
<text x="265.5" y="455.0" font-size="10.00" text-anchor="middle" font-family='"Liberation Sans", sans-serif' fill="#222" stroke="#222" stroke-width="0.30" >400</text>
<text x="143.7" y="467.8" font-size="14.85" text-anchor="middle" font-family='"Liberation Sans", sans-serif' fill="#151515" stroke="#151515" stroke-width="0.30" >Wavelength (nm)</text>
<text transform="translate(13.9,337.9) rotate(-90)" font-size="14.6" text-anchor="middle" font-family='"Liberation Sans", sans-serif' fill="#151515" stroke="#151515" stroke-width="0.3">Absorbance (a.u)</text>
<line x1="99.0" y1="252.3" x2="73.8" y2="252.3" stroke="#222" stroke-width="1.15" />
<polygon points="70.2,252.3 76.2,250.6 76.2,254.0" fill="#222"/>
<line x1="106.8" y1="252.3" x2="132.6" y2="252.3" stroke="#222" stroke-width="1.15" />
<polygon points="136.2,252.3 130.2,250.6 130.2,254.0" fill="#222"/>
<text x="79.0" y="264.9" font-size="11.30" text-anchor="start" font-family='"Liberation Sans", sans-serif' fill="#111" stroke="#111" stroke-width="0.30" >UVB</text>
<text x="107.1" y="264.9" font-size="11.50" text-anchor="start" font-family='"Liberation Sans", sans-serif' fill="#111" stroke="#111" stroke-width="0.30" >UVA</text>
<text x="49.5" y="409.7" font-size="16.00" text-anchor="start" font-family='"Liberation Serif", serif' fill="#111" stroke="#111" stroke-width="0.15" >(c)</text>
<line x1="196.1" y1="254.7" x2="218.5" y2="254.7" stroke="#555" stroke-width="1.10" />
<circle cx="207.9" cy="254.7" r="1.4" fill="#000"/>
<text x="222.3" y="258.7" font-size="10.10" text-anchor="start" font-family='"Liberation Sans", sans-serif' fill="#111" stroke="#111" stroke-width="0.30" >EB1</text>
<line x1="196.1" y1="266.9" x2="218.5" y2="266.9" stroke="#22aa44" stroke-width="1.10" />
<circle cx="207.9" cy="266.9" r="1.4" fill="#006600"/>
<text x="222.3" y="270.9" font-size="10.10" text-anchor="start" font-family='"Liberation Sans", sans-serif' fill="#111" stroke="#111" stroke-width="0.30" >EB1VI</text>
<line x1="196.1" y1="279.1" x2="218.5" y2="279.1" stroke="#4444ee" stroke-width="1.10" />
<circle cx="207.9" cy="279.1" r="1.4" fill="#000088"/>
<text x="222.3" y="283.1" font-size="10.10" text-anchor="start" font-family='"Liberation Sans", sans-serif' fill="#111" stroke="#111" stroke-width="0.30" >EB1BRA</text>
<line x1="196.1" y1="291.3" x2="218.5" y2="291.3" stroke="#ff66ff" stroke-width="1.10" />
<circle cx="207.9" cy="291.3" r="1.4" fill="#ee22ee"/>
<text x="222.3" y="295.3" font-size="10.10" text-anchor="start" font-family='"Liberation Sans", sans-serif' fill="#111" stroke="#111" stroke-width="0.30" >EB1CL</text>
<line x1="196.1" y1="303.5" x2="218.5" y2="303.5" stroke="#ff9933" stroke-width="1.10" />
<circle cx="207.9" cy="303.5" r="1.4" fill="#ee7700"/>
<text x="222.3" y="307.5" font-size="10.10" text-anchor="start" font-family='"Liberation Sans", sans-serif' fill="#111" stroke="#111" stroke-width="0.30" >EB1BRG</text>
<path d="M301.6,333.2 C302.7,331.4 305.7,326.4 308.2,322.3 C310.7,318.2 313.7,313.0 316.4,308.7 C319.1,304.4 321.9,300.3 324.6,296.4 C327.3,292.5 330.5,288.1 332.8,285.5 C335.1,282.9 336.4,282.2 338.3,280.7 C340.2,279.2 341.8,277.6 344.5,276.3 C347.2,275.0 351.1,273.5 354.7,272.7 C358.3,271.9 362.8,271.4 366.1,271.5 C369.4,271.6 372.0,271.8 374.6,273.0 C377.2,274.2 379.6,276.4 381.8,279.0 C384.0,281.6 385.7,284.4 387.6,288.6 C389.5,292.8 391.5,298.3 393.2,304.0 C394.9,309.7 396.4,318.2 397.9,323.0 C399.4,327.8 400.7,330.5 402.4,332.9 C404.1,335.3 405.8,335.9 408.2,337.4 C410.6,338.9 413.7,340.6 417.1,341.8 C420.5,343.0 424.9,344.4 428.8,344.7 C432.7,345.0 436.3,343.1 440.4,343.4 C444.5,343.7 449.3,344.5 453.3,346.5 C457.3,348.5 461.0,351.2 464.6,355.2 C468.2,359.2 471.6,365.0 475.0,370.5 C478.4,376.0 481.9,382.5 485.3,388.3 C488.7,394.1 492.1,400.6 495.5,405.3 C498.9,410.0 501.8,413.5 505.5,416.5 C509.2,419.5 511.9,421.6 517.5,423.5 C523.1,425.4 535.4,427.4 539.0,428.2" fill="none" stroke="#f4b2f4" stroke-width="1.80" stroke-linejoin="round" stroke-linecap="round" />
<path d="M301.6,333.2 C302.7,331.4 305.7,326.4 308.2,322.3 C310.7,318.2 313.7,313.0 316.4,308.7 C319.1,304.4 321.9,300.3 324.6,296.4 C327.3,292.5 330.5,288.1 332.8,285.5 C335.1,282.9 336.4,282.2 338.3,280.7 C340.2,279.2 341.8,277.6 344.5,276.3 C347.2,275.0 351.1,273.5 354.7,272.7 C358.3,271.9 362.8,271.4 366.1,271.5 C369.4,271.6 372.0,271.8 374.6,273.0 C377.2,274.2 379.6,276.4 381.8,279.0 C384.0,281.6 385.7,284.4 387.6,288.6 C389.5,292.8 391.5,298.3 393.2,304.0 C394.9,309.7 396.4,318.2 397.9,323.0 C399.4,327.8 400.7,330.5 402.4,332.9 C404.1,335.3 405.8,335.9 408.2,337.4 C410.6,338.9 413.7,340.6 417.1,341.8 C420.5,343.0 424.9,344.4 428.8,344.7 C432.7,345.0 436.3,343.1 440.4,343.4 C444.5,343.7 449.3,344.5 453.3,346.5 C457.3,348.5 461.0,351.2 464.6,355.2 C468.2,359.2 471.6,365.0 475.0,370.5 C478.4,376.0 481.9,382.5 485.3,388.3 C488.7,394.1 492.1,400.6 495.5,405.3 C498.9,410.0 501.8,413.5 505.5,416.5 C509.2,419.5 511.9,421.6 517.5,423.5 C523.1,425.4 535.4,427.4 539.0,428.2" fill="none" stroke="#ffffff" stroke-width="0.72" stroke-linejoin="round" stroke-linecap="butt" stroke-dasharray="1 1.1" stroke-opacity="0.75"/>
<path d="M301.6,338.8 C302.7,336.7 305.7,330.5 308.2,326.4 C310.7,322.3 313.7,318.3 316.4,314.2 C319.1,310.1 321.9,305.4 324.6,301.9 C327.3,298.4 330.3,295.4 332.8,293.0 C335.3,290.6 337.6,288.9 339.6,287.5 C341.6,286.1 342.5,285.5 345.0,284.6 C347.5,283.7 351.2,282.6 354.7,282.0 C358.2,281.4 363.2,281.1 366.1,281.2 C369.0,281.3 369.2,281.9 371.8,282.6 C374.4,283.3 379.2,283.6 381.8,285.6 C384.4,287.6 385.9,291.0 387.6,294.5 C389.3,298.0 390.8,302.6 392.0,306.5 C393.2,310.4 394.2,314.3 395.0,318.2 C395.8,322.1 396.2,328.0 396.5,330.0" fill="none" stroke="#f38a8a" stroke-width="1.80" stroke-linejoin="round" stroke-linecap="round" />
<path d="M301.6,338.8 C302.7,336.7 305.7,330.5 308.2,326.4 C310.7,322.3 313.7,318.3 316.4,314.2 C319.1,310.1 321.9,305.4 324.6,301.9 C327.3,298.4 330.3,295.4 332.8,293.0 C335.3,290.6 337.6,288.9 339.6,287.5 C341.6,286.1 342.5,285.5 345.0,284.6 C347.5,283.7 351.2,282.6 354.7,282.0 C358.2,281.4 363.2,281.1 366.1,281.2 C369.0,281.3 369.2,281.9 371.8,282.6 C374.4,283.3 379.2,283.6 381.8,285.6 C384.4,287.6 385.9,291.0 387.6,294.5 C389.3,298.0 390.8,302.6 392.0,306.5 C393.2,310.4 394.2,314.3 395.0,318.2 C395.8,322.1 396.2,328.0 396.5,330.0" fill="none" stroke="#ffffff" stroke-width="0.72" stroke-linejoin="round" stroke-linecap="butt" stroke-dasharray="1 1.1" stroke-opacity="0.75"/>
<path d="M396.5,330.0 C397.0,330.5 397.9,331.3 399.4,333.0 C400.9,334.7 403.3,337.9 405.3,340.3 C407.3,342.7 408.8,344.9 411.2,347.1 C413.6,349.3 417.2,351.6 420.0,353.3 C422.8,355.0 425.5,357.0 428.2,357.2 C430.9,357.4 433.5,355.2 436.4,354.5 C439.2,353.8 442.5,353.2 445.3,353.2 C448.1,353.2 450.3,353.2 453.3,354.4 C456.3,355.6 460.0,357.3 463.4,360.5 C466.8,363.7 470.2,368.6 473.6,373.5 C477.0,378.4 480.4,384.5 483.8,390.0 C487.2,395.5 490.6,402.0 494.0,406.6 C497.4,411.2 500.3,414.9 504.1,417.9 C507.9,420.9 512.9,423.1 516.9,424.7 C520.9,426.3 524.7,426.8 528.4,427.6 C532.1,428.5 537.2,429.4 539.0,429.8" fill="none" stroke="#f38a8a" stroke-width="1.80" stroke-linejoin="round" stroke-linecap="round" />
<path d="M396.5,330.0 C397.0,330.5 397.9,331.3 399.4,333.0 C400.9,334.7 403.3,337.9 405.3,340.3 C407.3,342.7 408.8,344.9 411.2,347.1 C413.6,349.3 417.2,351.6 420.0,353.3 C422.8,355.0 425.5,357.0 428.2,357.2 C430.9,357.4 433.5,355.2 436.4,354.5 C439.2,353.8 442.5,353.2 445.3,353.2 C448.1,353.2 450.3,353.2 453.3,354.4 C456.3,355.6 460.0,357.3 463.4,360.5 C466.8,363.7 470.2,368.6 473.6,373.5 C477.0,378.4 480.4,384.5 483.8,390.0 C487.2,395.5 490.6,402.0 494.0,406.6 C497.4,411.2 500.3,414.9 504.1,417.9 C507.9,420.9 512.9,423.1 516.9,424.7 C520.9,426.3 524.7,426.8 528.4,427.6 C532.1,428.5 537.2,429.4 539.0,429.8" fill="none" stroke="#ffffff" stroke-width="0.72" stroke-linejoin="round" stroke-linecap="butt" stroke-dasharray="1 1.1" stroke-opacity="0.75"/>
<path d="M301.6,393.4 C302.9,392.7 306.3,390.5 309.1,389.1 C311.9,387.7 314.4,386.5 318.2,385.0 C322.0,383.5 326.9,381.8 332.0,379.9 C337.1,378.0 343.9,375.2 349.1,373.7 C354.3,372.2 359.7,371.2 363.2,370.8 C366.7,370.4 367.9,370.9 370.0,371.4 C372.1,371.8 373.9,372.6 375.9,373.5 C377.9,374.4 379.9,375.5 381.8,377.1 C383.8,378.7 385.7,380.7 387.6,382.9 C389.6,385.1 391.5,388.1 393.5,390.3 C395.5,392.5 397.4,394.6 399.4,396.2 C401.4,397.8 402.9,398.6 405.3,399.7 C407.8,400.8 411.6,402.0 414.1,402.6 C416.6,403.2 417.4,402.9 420.1,403.1 C422.8,403.3 426.0,403.7 430.2,403.9 C434.4,404.1 441.1,403.9 445.3,404.4 C449.5,404.9 452.0,405.8 455.3,406.9 C458.6,407.9 462.0,409.2 465.4,410.7 C468.8,412.2 472.1,414.1 475.5,415.7 C478.9,417.3 481.8,418.9 485.6,420.3 C489.4,421.7 494.0,423.0 498.2,424.0 C502.4,425.0 506.2,425.7 510.8,426.3 C515.4,426.9 521.2,427.4 525.9,427.8 C530.6,428.2 536.8,428.6 539.0,428.8" fill="none" stroke="#9a9af4" stroke-width="2.20" stroke-linejoin="round" stroke-linecap="round" />
<path d="M301.6,393.4 C302.9,392.7 306.3,390.5 309.1,389.1 C311.9,387.7 314.4,386.5 318.2,385.0 C322.0,383.5 326.9,381.8 332.0,379.9 C337.1,378.0 343.9,375.2 349.1,373.7 C354.3,372.2 359.7,371.2 363.2,370.8 C366.7,370.4 367.9,370.9 370.0,371.4 C372.1,371.8 373.9,372.6 375.9,373.5 C377.9,374.4 379.9,375.5 381.8,377.1 C383.8,378.7 385.7,380.7 387.6,382.9 C389.6,385.1 391.5,388.1 393.5,390.3 C395.5,392.5 397.4,394.6 399.4,396.2 C401.4,397.8 402.9,398.6 405.3,399.7 C407.8,400.8 411.6,402.0 414.1,402.6 C416.6,403.2 417.4,402.9 420.1,403.1 C422.8,403.3 426.0,403.7 430.2,403.9 C434.4,404.1 441.1,403.9 445.3,404.4 C449.5,404.9 452.0,405.8 455.3,406.9 C458.6,407.9 462.0,409.2 465.4,410.7 C468.8,412.2 472.1,414.1 475.5,415.7 C478.9,417.3 481.8,418.9 485.6,420.3 C489.4,421.7 494.0,423.0 498.2,424.0 C502.4,425.0 506.2,425.7 510.8,426.3 C515.4,426.9 521.2,427.4 525.9,427.8 C530.6,428.2 536.8,428.6 539.0,428.8" fill="none" stroke="#ffffff" stroke-width="0.88" stroke-linejoin="round" stroke-linecap="butt" stroke-dasharray="1 1.1" stroke-opacity="0.75"/>
<line x1="381.4" y1="249.0" x2="381.4" y2="437.0" stroke="#7c7c7c" stroke-width="1.40" stroke-dasharray="4.70 4.94"/>
<line x1="301.6" y1="247.5" x2="539.0" y2="247.5" stroke="#aaa" stroke-width="1.10" />
<line x1="539.0" y1="247.5" x2="539.0" y2="437.0" stroke="#aaa" stroke-width="1.10" />
<line x1="301.6" y1="247.5" x2="301.6" y2="437.6" stroke="#555" stroke-width="1.40" />
<line x1="301.0" y1="437.0" x2="539.6" y2="437.0" stroke="#555" stroke-width="1.40" />
<line x1="301.6" y1="437.0" x2="301.6" y2="440.6" stroke="#555" stroke-width="1.30" />
<text x="301.6" y="451.6" font-size="10.00" text-anchor="middle" font-family='"Liberation Sans", sans-serif' fill="#222" stroke="#222" stroke-width="0.30" >280</text>
<line x1="321.4" y1="437.0" x2="321.4" y2="439.0" stroke="#555" stroke-width="1.10" />
<line x1="341.2" y1="437.0" x2="341.2" y2="440.6" stroke="#555" stroke-width="1.30" />
<text x="341.2" y="451.6" font-size="10.00" text-anchor="middle" font-family='"Liberation Sans", sans-serif' fill="#222" stroke="#222" stroke-width="0.30" >300</text>
<line x1="361.0" y1="437.0" x2="361.0" y2="439.0" stroke="#555" stroke-width="1.10" />
<line x1="380.7" y1="437.0" x2="380.7" y2="440.6" stroke="#555" stroke-width="1.30" />
<text x="380.7" y="451.6" font-size="10.00" text-anchor="middle" font-family='"Liberation Sans", sans-serif' fill="#222" stroke="#222" stroke-width="0.30" >320</text>
<line x1="400.5" y1="437.0" x2="400.5" y2="439.0" stroke="#555" stroke-width="1.10" />
<line x1="420.3" y1="437.0" x2="420.3" y2="440.6" stroke="#555" stroke-width="1.30" />
<text x="420.3" y="451.6" font-size="10.00" text-anchor="middle" font-family='"Liberation Sans", sans-serif' fill="#222" stroke="#222" stroke-width="0.30" >340</text>
<line x1="440.1" y1="437.0" x2="440.1" y2="439.0" stroke="#555" stroke-width="1.10" />
<line x1="459.9" y1="437.0" x2="459.9" y2="440.6" stroke="#555" stroke-width="1.30" />
<text x="459.9" y="451.6" font-size="10.00" text-anchor="middle" font-family='"Liberation Sans", sans-serif' fill="#222" stroke="#222" stroke-width="0.30" >360</text>
<line x1="479.6" y1="437.0" x2="479.6" y2="439.0" stroke="#555" stroke-width="1.10" />
<line x1="499.4" y1="437.0" x2="499.4" y2="440.6" stroke="#555" stroke-width="1.30" />
<text x="499.4" y="451.6" font-size="10.00" text-anchor="middle" font-family='"Liberation Sans", sans-serif' fill="#222" stroke="#222" stroke-width="0.30" >380</text>
<line x1="519.2" y1="437.0" x2="519.2" y2="439.0" stroke="#555" stroke-width="1.10" />
<line x1="539.0" y1="437.0" x2="539.0" y2="440.6" stroke="#555" stroke-width="1.30" />
<text x="539.0" y="451.6" font-size="10.00" text-anchor="middle" font-family='"Liberation Sans", sans-serif' fill="#222" stroke="#222" stroke-width="0.30" >400</text>
<text x="420.5" y="468.8" font-size="14.60" text-anchor="middle" font-family='"Liberation Sans", sans-serif' fill="#151515" stroke="#151515" stroke-width="0.30" >Wavelength (nm)</text>
<text transform="translate(292.8,342.8) rotate(-90)" font-size="16.2" text-anchor="middle" font-family='"Liberation Sans", sans-serif' fill="#151515" stroke="#151515" stroke-width="0.3">Absorbance (a.u)</text>
<line x1="378.0" y1="251.5" x2="354.2" y2="251.5" stroke="#222" stroke-width="1.15" />
<polygon points="350.6,251.5 356.6,249.8 356.6,253.2" fill="#222"/>
<line x1="383.9" y1="251.5" x2="407.1" y2="251.5" stroke="#222" stroke-width="1.15" />
<polygon points="410.7,251.5 404.7,249.8 404.7,253.2" fill="#222"/>
<text x="357.4" y="263.0" font-size="11.20" text-anchor="start" font-family='"Liberation Sans", sans-serif' fill="#111" stroke="#111" stroke-width="0.30" >UVB</text>
<text x="384.3" y="263.0" font-size="11.50" text-anchor="start" font-family='"Liberation Sans", sans-serif' fill="#111" stroke="#111" stroke-width="0.30" >UVA</text>
<text x="330.8" y="423.0" font-size="16.60" text-anchor="start" font-family='"Liberation Serif", serif' fill="#111" stroke="#111" stroke-width="0.15" >(d)</text>
<line x1="471.3" y1="255.6" x2="493.8" y2="255.6" stroke="#f88080" stroke-width="1.50" />
<text x="497.0" y="260.2" font-size="10.40" text-anchor="start" font-family='"Liberation Sans", sans-serif' fill="#111" stroke="#111" stroke-width="0.30" >EB2</text>
<line x1="471.3" y1="267.9" x2="493.8" y2="267.9" stroke="#9999ff" stroke-width="1.50" />
<text x="497.0" y="272.5" font-size="10.40" text-anchor="start" font-family='"Liberation Sans", sans-serif' fill="#111" stroke="#111" stroke-width="0.30" >EB2BRA</text>
<line x1="471.3" y1="280.1" x2="493.8" y2="280.1" stroke="#f5aaf5" stroke-width="1.50" />
<text x="497.0" y="284.7" font-size="10.40" text-anchor="start" font-family='"Liberation Sans", sans-serif' fill="#111" stroke="#111" stroke-width="0.30" >EB2CL</text>
</svg>
</body></html>
